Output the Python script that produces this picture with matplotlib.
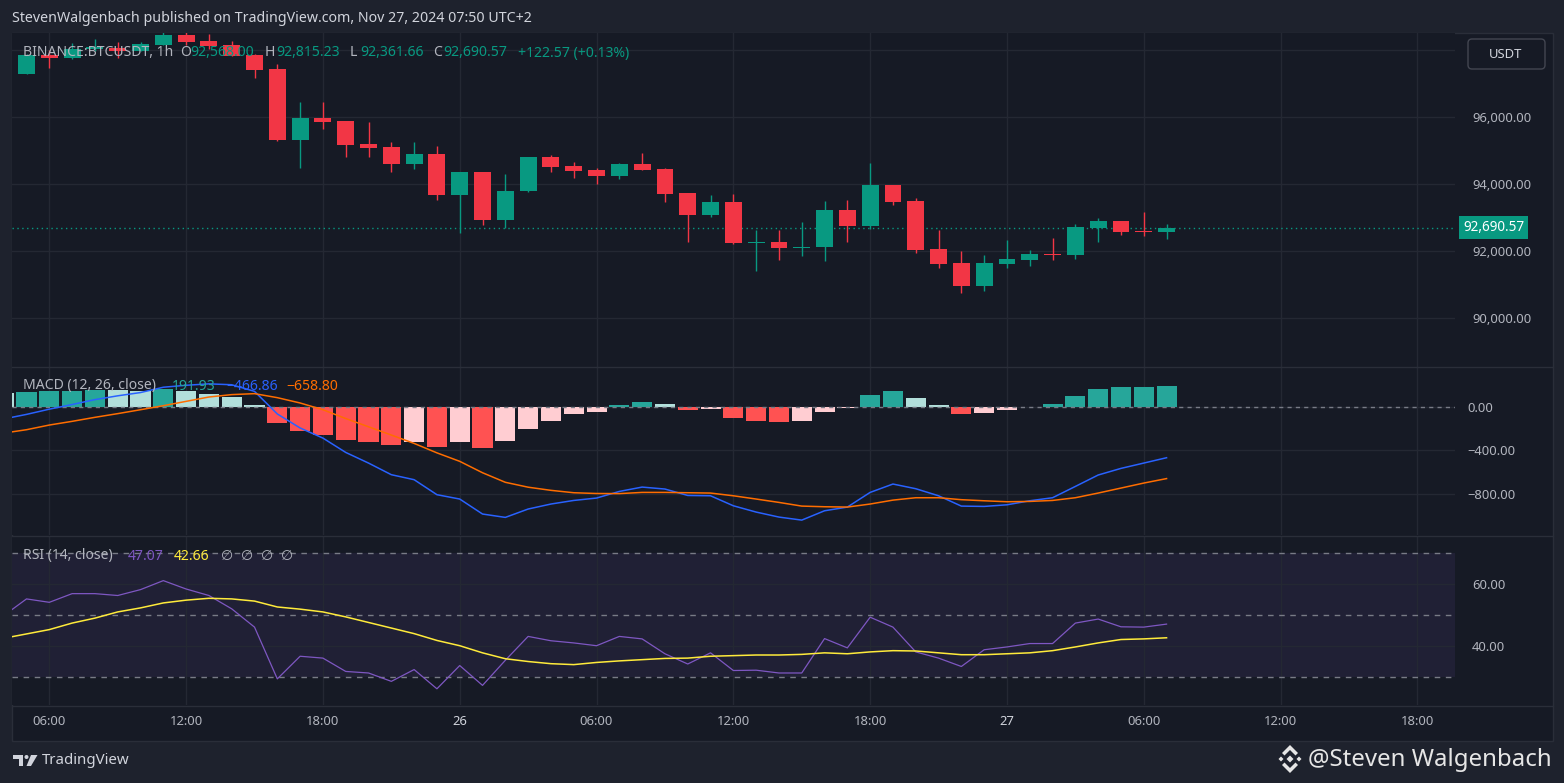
import numpy as np
import pandas as pd
import matplotlib
matplotlib.use("Agg")
import matplotlib.pyplot as plt
import matplotlib.dates as mdates
import matplotlib.transforms as mtransforms
from matplotlib.patches import Rectangle, FancyBboxPatch, Polygon, Circle

W, H = 1564, 783

# ---- data (BINANCE:BTCUSDT, 1h, 25 Nov 05:00 -> 27 Nov 07:00) ----
times = pd.date_range("2024-11-25 05:00", periods=51, freq="h")

opens = [97290, 97850, 97750, 98030, 98050, 97980, 98150, 98450, 98270, 98150,
         97850, 97430, 95320, 95970, 95880, 95190, 95100, 94610, 94900, 93680,
         94360, 92930, 93790, 94810, 94540, 94420, 94240, 94600, 94450, 93730,
         93070, 93460, 92240, 92270, 92090, 92110, 93220, 92750, 93970, 93490,
         92060, 91640, 90960, 91610, 91730, 91910, 91890, 92690, 92900, 92580,
         92568.00]
highs = [97880, 98000, 98210, 98330, 98240, 98250, 98600, 98600, 98480, 98270,
         97870, 97580, 96450, 96450, 95890, 95850, 95250, 95250, 95130, 94370,
         94370, 94300, 94820, 94870, 94660, 94480, 94630, 94930, 94480, 93740,
         93670, 93700, 92630, 92630, 92870, 93490, 93520, 94630, 93980, 93580,
         92630, 92000, 91880, 92330, 92030, 92390, 92810, 92990, 92910, 93160,
         92815.23]
lows = [97270, 97470, 97720, 97980, 97760, 97970, 98140, 98150, 98030, 97820,
        97170, 95280, 94490, 95640, 94820, 94820, 94370, 94460, 93530, 92550,
        92780, 92700, 93770, 94360, 94180, 94000, 94150, 94410, 93460, 92280,
        93010, 92210, 91400, 91730, 91850, 91700, 92270, 92660, 93370, 91940,
        91490, 90750, 90810, 91490, 91550, 91730, 91760, 92270, 92480, 92450,
        92361.66]
closes = [97850, 97750, 98030, 98090, 97980, 98170, 98450, 98250, 98130, 97830,
          97400, 95320, 95970, 95860, 95170, 95080, 94610, 94900, 93680, 94360,
          92930, 93790, 94810, 94510, 94390, 94240, 94600, 94420, 93700, 93070,
          93460, 92240, 92270, 92090, 92110, 93220, 92750, 93970, 93460, 92030,
          91610, 90960, 91640, 91760, 91910, 91890, 92720, 92900, 92580, 92568,
          92690.57]

# indicators start one bar earlier (04:00, mostly off the left edge)
ind_times = pd.date_range("2024-11-25 04:00", periods=52, freq="h")
macd = [-110, -68, -20, 23, 68, 103, 133, 182, 200, 213, 205, 144, -64, -193,
        -286, -418, -516, -623, -669, -807, -847, -985, -1016, -939, -893, -860,
        -838, -777, -737, -755, -814, -817, -909, -967, -1013, -1041, -955, -921,
        -786, -709, -752, -817, -912, -915, -900, -863, -835, -731, -626, -565,
        -516, -466.86]
signal = [-240, -209, -166, -132, -95, -61, -25, 12, 52, 92, 114, 123, 86, 37,
          -25, -106, -182, -258, -335, -422, -500, -605, -693, -738, -767, -789,
          -796, -797, -786, -786, -789, -792, -817, -847, -878, -912, -918, -921,
          -893, -857, -835, -835, -853, -863, -872, -869, -860, -835, -792, -746,
          -700, -658.80]
hist = [130, 140, 145, 150, 158, 153, 144, 169, 144, 123, 89, 21, -150, -218,
        -255, -301, -325, -347, -325, -365, -325, -375, -316, -200, -126, -68,
        -43, 21, 49, 31, -31, -21, -98, -126, -135, -133, -43, -6, 114, 150, 86,
        21, -61, -59, -31, 3, 31, 104, 168, 184, 187, 191.93]
rsi = [49.8, 55.2, 54.1, 56.9, 56.9, 56.3, 58.2, 61.1, 58.4, 56.3, 52.0, 46.1,
       29.4, 36.7, 36.1, 31.8, 31.3, 28.6, 32.4, 26.2, 33.7, 27.3, 35.4, 43.1,
       41.7, 41.0, 40.1, 43.1, 42.3, 37.5, 34.2, 37.8, 32.1, 32.2, 31.3, 31.3,
       42.4, 39.4, 49.3, 46.1, 38.1, 36.1, 33.4, 38.8, 39.7, 40.8, 40.8, 47.4,
       48.7, 46.2, 46.1, 47.07]
rsi_ma = [42.5, 43.9, 45.3, 47.4, 49.0, 51.0, 52.3, 53.9, 54.8, 55.4, 55.2, 54.5,
          52.6, 51.9, 51.0, 49.4, 47.6, 45.8, 44.0, 41.8, 40.1, 37.8, 35.9, 35.0,
          34.3, 34.0, 34.7, 35.2, 35.6, 36.0, 36.1, 36.7, 36.9, 37.1, 37.1, 37.3,
          37.8, 37.5, 38.1, 38.5, 38.4, 37.8, 37.2, 37.2, 37.5, 37.8, 38.5, 39.7,
          41.0, 42.1, 42.3, 42.66]

price_ticks = [90000, 92000, 94000, 96000, 98000]
macd_ticks = [-800, -400, 0]
rsi_ticks = [40, 60]
time_ticks = pd.date_range("2024-11-25 06:00", "2024-11-27 18:00", freq="6h")

# ---- colours ----
OUTER = "#1E222D"
BG = "#161A25"
GRID = "#242833"
TXT = "#B2B5BE"
GREEN = "#089981"
RED = "#F23645"
FONT = "Noto Sans"

def pt(px):
    return px * 72 / 100

plt.rcParams["font.family"] = [FONT, "DejaVu Sans"]

fig = plt.figure(figsize=(W / 100, H / 100), dpi=100, facecolor=OUTER)

def add_pane(x0, y0, x1, y1):
    ax = fig.add_axes([x0 / W, 1 - y1 / H, (x1 - x0) / W, (y1 - y0) / H])
    ax.set_facecolor(BG)
    for s in ax.spines.values():
        s.set_visible(False)
    return ax

# frame background
fig.patches.append(Rectangle((12 / W, 1 - 741 / H), (1553 - 12) / W, (741 - 33) / H,
                             transform=fig.transFigure, fc=BG, ec="#2A2E39", lw=1, zorder=-1))

ax_p = add_pane(12, 33, 1455, 367)
ax_m = add_pane(12, 368, 1455, 535)
ax_r = add_pane(12, 536, 1455, 705)

x = mdates.date2num(times)
xi = mdates.date2num(ind_times)
hour = 1 / 24
xmin = x[0] - 0.636 * hour
xmax = x[0] + 62.65 * hour
tick_x = mdates.date2num(time_ticks)

for ax in (ax_p, ax_m, ax_r):
    ax.set_xlim(xmin, xmax)
    ax.set_xticks(tick_x)
    ax.tick_params(axis="x", length=0, labelbottom=False)
    ax.yaxis.tick_right()
    ax.tick_params(axis="y", length=0, colors=TXT, labelsize=pt(13))
    ax.grid(True, color=GRID, lw=1)
    ax.set_axisbelow(True)

# ---- price pane ----
o = np.array(opens); c = np.array(closes)
up = c >= o
cols = np.where(up, GREEN, RED)
ax_p.vlines(x, lows, highs, colors=cols, lw=1, zorder=2)
body_lo = np.minimum(o, c)
body_h = np.abs(c - o)
doji = body_h < 45
body_lo = np.where(doji, (o + c) / 2 - 22, body_lo)
body_h = np.where(doji, 45, body_h)
ax_p.bar(x, body_h, bottom=body_lo, width=0.74 * hour, color=cols, lw=0, zorder=3)
ax_p.set_ylim(88537, 98507)
ax_p.set_yticks(price_ticks)
# the 98,000 label sits under the currency box, so it stays empty
ax_p.set_yticklabels([f"{v:,.2f}" if v < 98000 else "" for v in price_ticks])
ax_p.tick_params(axis="y", pad=pt(17))
ax_p.axhline(closes[-1], color=GREEN, lw=1, ls=(0, (1, 2.5)), zorder=1)
blend = mtransforms.blended_transform_factory(ax_p.transAxes, ax_p.transData)
ax_p.text(1 + 8 / 1443, closes[-1], f"{closes[-1]:,.2f}", transform=blend,
          ha="left", va="center", color="white", fontsize=pt(13.5), fontweight="bold",
          bbox=dict(boxstyle="square,pad=0.3", fc=GREEN, ec="none"), zorder=6, clip_on=False)

# ---- MACD pane ----
hcols = []
for i, h in enumerate(hist):
    prev = hist[i - 1] if i > 0 else h
    if h >= 0:
        hcols.append("#26A69A" if h > prev else "#B2DFDB")
    else:
        hcols.append("#FFCDD2" if h > prev else "#FF5252")
ax_m.bar(xi, hist, width=0.88 * hour, color=hcols, lw=0, zorder=2)
ax_m.axhline(0, color="#787B86", lw=1, ls=(0, (3, 3)), zorder=3)
ax_m.plot(xi, macd, color="#2962FF", lw=1.1, zorder=4)
ax_m.plot(xi, signal, color="#FF6D00", lw=1.1, zorder=4)
ax_m.set_ylim(-1178, 359)
ax_m.set_yticks(macd_ticks)
ax_m.set_yticklabels(["\u2212800.00", "\u2212400.00", "0.00"])
ax_m.tick_params(axis="y", pad=pt(12))

# ---- RSI pane ----
ax_r.axhspan(30, 70, color="#7E57C2", alpha=0.1, lw=0, zorder=0)
for lvl in (70, 50, 30):
    ax_r.axhline(lvl, color="#787B86", lw=1, ls=(0, (4, 4)), zorder=1)
ax_r.plot(xi, rsi, color="#7E57C2", lw=0.9, zorder=3)
ax_r.plot(xi, rsi_ma, color="#FFEB3B", lw=1.1, zorder=3)
ax_r.set_ylim(20.97, 75.5)
ax_r.set_yticks(rsi_ticks)
ax_r.set_yticklabels([f"{v:.2f}" for v in rsi_ticks])
ax_r.tick_params(axis="y", pad=pt(17))
ax_r.tick_params(axis="x", labelbottom=True, colors=TXT, labelsize=pt(13), pad=pt(10))
ax_r.set_xticklabels(["%d" % t.day if t.hour == 0 else t.strftime("%H:%M") for t in time_ticks])
for lab, t in zip(ax_r.get_xticklabels(), time_ticks):
    if t.hour == 0:
        lab.set_fontweight("bold")
        lab.set_color("#D1D4DC")

# pane separators
for yy in (367.5, 535.5, 705.5):
    fig.add_artist(plt.Line2D([12 / W, 1553 / W], [1 - yy / H] * 2, color="#2A2E39", lw=1))

# ---- overlay for texts (pixel coordinates) ----
ov = fig.add_axes([0, 0, 1, 1], zorder=10)
ov.set_xlim(0, W); ov.set_ylim(H, 0); ov.axis("off"); ov.patch.set_alpha(0)

ov.text(12, 18, "StevenWalgenbach published on TradingView.com, Nov 27, 2024 07:50 UTC+2",
        color="#D1D4DC", fontsize=pt(14.2), va="center", ha="left")

# legend rows
fs = pt(14)
legend_p = [(23, "BINANCE:BTCUSDT, 1h", TXT), (180, "O", TXT), (190, "92,568.00", GREEN),
            (265, "H", TXT), (276, "92,815.23", GREEN), (350, "L", TXT), (360, "92,361.66", GREEN),
            (433, "C", TXT), (443, "92,690.57", GREEN), (518, "+122.57 (+0.13%)", GREEN)]
for xx, s, col in legend_p:
    ov.text(xx, 53, s, color=col, fontsize=fs, va="center", ha="left")
legend_m = [(23, "MACD (12, 26, close)", TXT), (172, "191.93", "#26A69A"),
            (226, "\u2212466.86", "#2962FF"), (286, "\u2212658.80", "#FF6D00")]
for xx, s, col in legend_m:
    ov.text(xx, 386, s, color=col, fontsize=fs, va="center", ha="left")
legend_r = [(23, "RSI (14, close)", TXT), (128, "47.07", "#7E57C2"), (174, "42.66", "#FFEB3B"),
            (221, "\u2205", TXT), (241, "\u2205", TXT), (261, "\u2205", TXT), (281, "\u2205", TXT)]
for xx, s, col in legend_r:
    ov.text(xx, 556, s, color=col, fontsize=fs, va="center", ha="left")

# currency box
ov.add_patch(FancyBboxPatch((1468, 39), 77, 30, boxstyle="round,pad=0,rounding_size=4",
                            fc=BG, ec="#434651", lw=1))
ov.text(1506, 54, "USDT", color="#D1D4DC", fontsize=pt(13), ha="center", va="center")

# TradingView logo + text
LOGO = "#D1D4DC"
ov.add_patch(Polygon([(13, 755), (23, 755), (23, 766), (19, 766), (19, 759), (13, 759)], fc=LOGO, ec="none"))
ov.add_patch(Circle((26.5, 757), 2.0, fc=LOGO, ec="none"))
ov.add_patch(Polygon([(31, 755), (37.5, 755), (31, 766), (26.5, 766)], fc=LOGO, ec="none"))
ov.text(42, 761, "TradingView", color=LOGO, fontsize=pt(15), va="center", ha="left")

# watermark with diamond logo
WM = "#E6E6E6"
cx, cy = 1290, 759
ov.add_patch(Polygon([(cx, cy - 3.5), (cx + 3.5, cy), (cx, cy + 3.5), (cx - 3.5, cy)], fc=WM, ec="none"))
for dx in (-9, 9):
    ov.add_patch(Polygon([(cx + dx, cy - 2.5), (cx + dx + 2.5, cy), (cx + dx, cy + 2.5), (cx + dx - 2.5, cy)], fc=WM, ec="none"))
ov.add_patch(Polygon([(cx, cy - 14), (cx + 8, cy - 6), (cx + 5.5, cy - 3.5), (cx, cy - 9), (cx - 5.5, cy - 3.5), (cx - 8, cy - 6)], fc=WM, ec="none"))
ov.add_patch(Polygon([(cx, cy + 14), (cx + 8, cy + 6), (cx + 5.5, cy + 3.5), (cx, cy + 9), (cx - 5.5, cy + 3.5), (cx - 8, cy + 6)], fc=WM, ec="none"))
ov.text(1308, 760, "@Steven Walgenbach", color=WM, fontsize=pt(24), va="center", ha="left")

fig.savefig("out.png", dpi=100, facecolor=OUTER)
